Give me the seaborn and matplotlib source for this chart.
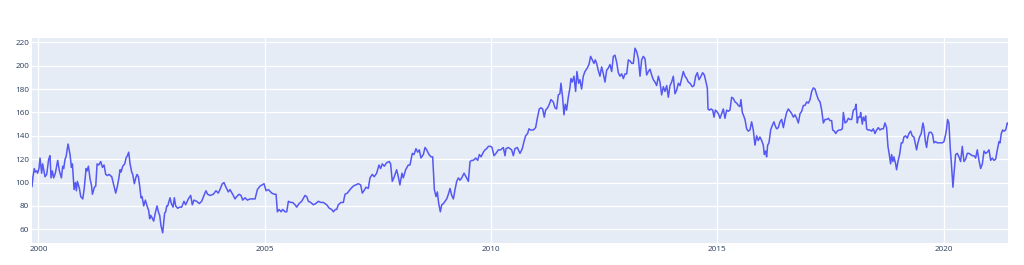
import numpy as np
import pandas as pd
import matplotlib
matplotlib.use("Agg")
import matplotlib.pyplot as plt
import matplotlib.dates as mdates
import seaborn as sns

# decimal-year time stamps and values
years = [
 1999.859,1999.881,1999.910,1999.933,1999.962,1999.984,2000.013,2000.036,2000.072,2000.094,
 2000.146,2000.183,2000.227,2000.256,2000.279,2000.308,2000.337,2000.374,2000.426,2000.463,
 2000.507,2000.536,2000.558,2000.588,2000.610,2000.654,2000.698,2000.728,2000.750,2000.787,
 2000.816,2000.838,2000.860,2000.904,2000.934,2000.978,2001.008,2001.052,2001.074,2001.103,
 2001.140,2001.170,2001.192,2001.236,2001.265,2001.295,2001.332,2001.376,2001.413,2001.449,
 2001.486,2001.523,2001.560,2001.619,2001.670,2001.707,2001.744,2001.773,2001.803,2001.825,
 2001.862,2001.906,2001.935,2001.965,2001.994,2002.024,2002.060,2002.083,2002.119,2002.149,
 2002.178,2002.208,2002.237,2002.267,2002.289,2002.326,2002.362,2002.399,2002.436,2002.458,
 2002.480,2002.510,2002.546,2002.576,2002.620,2002.657,2002.679,2002.708,2002.745,2002.767,
 2002.789,2002.812,2002.834,2002.856,2002.885,2002.907,2002.937,2002.974,2003.003,2003.032,
 2003.077,2003.121,
 2003.165,2003.216,2003.253,2003.312,2003.364,2003.400,2003.437,2003.496,2003.555,2003.607,
 2003.658,2003.702,2003.739,2003.791,2003.864,2003.923,2003.975,2004.011,2004.063,2004.100,
 2004.144,2004.196,2004.232,2004.291,2004.343,2004.380,2004.431,2004.475,2004.512,2004.564,
 2004.615,2004.674,2004.733,2004.785,2004.836,2004.895,2004.939,2004.983,2005.028,2005.079,
 2005.153,2005.212,2005.249,2005.278,2005.315,2005.359,2005.396,2005.447,2005.484,2005.521,
 2005.573,2005.617,2005.668,2005.705,2005.757,2005.815,2005.889,2005.926,2005.963,2006.014,
 2006.073,2006.125,2006.184,2006.235,2006.294,2006.368,2006.427,2006.478,2006.515,2006.559,
 2006.589,2006.625,2006.684,2006.736,2006.773,2006.824,2006.883,
 2006.905,2006.957,2007.008,2007.067,2007.119,2007.155,2007.192,2007.236,2007.288,2007.325,
 2007.376,2007.420,2007.472,2007.524,2007.560,2007.597,2007.641,2007.693,2007.752,2007.781,
 2007.818,2007.862,2007.914,2007.951,2007.987,2008.032,2008.061,2008.113,2008.171,2008.208,
 2008.260,2008.297,2008.341,2008.378,2008.414,2008.451,2008.503,2008.540,2008.576,2008.628,
 2008.672,2008.709,2008.746,2008.783,2008.812,2008.842,2008.878,2008.908,2008.945,2008.981,
 2009.018,2009.055,2009.092,2009.129,2009.166,2009.202,2009.239,2009.276,2009.313,2009.350,
 2009.401,2009.445,2009.497,2009.534,2009.570,2009.607,2009.659,2009.703,2009.740,2009.777,
 2009.828,2009.865,2009.902,2009.939,2009.990,2010.020,2010.064,2010.108,2010.160,2010.211,
 2010.270,2010.307,2010.329,2010.380,
 2010.454,2010.491,2010.527,2010.579,2010.638,2010.689,2010.726,2010.763,2010.807,2010.837,
 2010.874,2010.932,2010.984,2011.021,2011.065,2011.102,2011.139,2011.175,2011.205,2011.249,
 2011.286,2011.323,2011.374,2011.411,2011.448,2011.485,2011.521,2011.544,2011.580,2011.610,
 2011.639,2011.669,2011.706,2011.742,2011.764,2011.794,2011.831,2011.868,2011.897,2011.934,
 2011.963,2012.000,2012.037,2012.074,2012.125,2012.162,2012.199,2012.236,2012.273,2012.302,
 2012.331,2012.368,2012.405,2012.442,2012.479,2012.516,2012.552,2012.589,2012.626,2012.663,
 2012.700,2012.736,2012.773,2012.810,2012.847,2012.884,2012.921,2012.957,2012.994,2013.031,
 2013.068,2013.105,2013.141,2013.178,2013.215,2013.252,2013.289,2013.325,2013.362,2013.399,
 2013.436,2013.473,2013.510,2013.546,2013.583,2013.620,2013.657,2013.694,2013.730,2013.767,
 2013.804,2013.841,2013.878,2013.915,2013.951,2013.988,2014.025,2014.062,2014.099,2014.135,
 2014.172,2014.209,2014.246,2014.283,2014.320,2014.356,2014.393,
 2014.445,2014.482,2014.519,2014.556,2014.593,2014.637,2014.674,2014.711,2014.747,2014.777,
 2014.792,2014.821,2014.858,2014.895,2014.924,2014.954,2014.983,2015.020,2015.057,2015.093,
 2015.130,2015.167,2015.204,2015.241,2015.277,2015.314,2015.351,2015.388,2015.425,2015.462,
 2015.498,2015.520,2015.550,2015.572,2015.609,2015.646,2015.682,2015.719,2015.756,2015.793,
 2015.830,2015.867,2015.903,2015.940,2015.977,2016.014,2016.036,2016.065,2016.087,2016.110,
 2016.139,2016.176,2016.213,2016.249,2016.272,2016.308,2016.345,2016.382,2016.419,2016.456,
 2016.492,2016.529,2016.566,2016.603,2016.640,2016.677,2016.713,2016.750,2016.787,2016.824,
 2016.861,2016.897,2016.934,2016.971,2017.008,2017.045,2017.081,2017.118,2017.155,2017.192,
 2017.229,2017.266,2017.302,2017.339,2017.376,2017.413,2017.450,2017.486,2017.523,2017.545,
 2017.582,2017.612,2017.648,2017.685,2017.722,2017.759,2017.781,2017.818,2017.855,2017.891,
 2017.928,2017.965,2018.002,2018.039,2018.061,2018.090,2018.112,2018.149,
 2018.163,2018.185,2018.200,2018.222,2018.252,2018.274,2018.296,2018.325,2018.369,2018.406,
 2018.443,2018.480,2018.517,2018.553,2018.590,2018.627,2018.664,2018.701,2018.737,2018.767,
 2018.796,2018.826,2018.848,2018.877,2018.899,2018.936,2018.958,2018.988,2019.025,2019.061,
 2019.091,2019.120,2019.157,2019.194,2019.231,2019.268,2019.304,2019.341,2019.378,2019.400,
 2019.430,2019.466,2019.503,2019.540,2019.562,2019.592,2019.621,2019.651,2019.680,2019.724,
 2019.754,2019.783,2019.820,2019.857,2019.894,2019.930,2019.967,2020.004,2020.041,2020.063,
 2020.085,2020.114,2020.144,2020.166,2020.188,2020.203,2020.225,2020.262,2020.299,2020.335,
 2020.372,2020.409,2020.446,2020.483,2020.519,2020.556,2020.593,2020.630,2020.667,2020.703,
 2020.740,2020.777,2020.814,2020.851,2020.888,2020.924,2020.961,2020.998,2021.035,2021.072,
 2021.108,2021.145,2021.182,2021.219,2021.241,2021.270,2021.300,2021.329,2021.366,2021.403,
 2021.418,
]

values = [
 96.5,105,112,109,110,108,112,121,108,116,
 105,107,120,123,104,110,104,108,119,110,
 104,114,112,120,122,133,124,113,116,94,
 100,93,101,95,88,86,94,112,110,114,
 103,98,90,96,97,116,115,118,113,115,
 107,106,107,105,97,91,97,103,111,109,
 114,116,121,123,126,116,109,107,99,104,
 107,105,97,87,88,80,85,80,76,69,
 72,70,67,73,80,74,72,63,57,66,
 74,75,80,80,84,87,82,79,87,80,
 78,79,
 79,84,81,86,89,81,85,84,82,84,
 89,93,90,89,90,93,91,94,99,100,
 96,92,94,90,86,88,90,89,85,87,
 85,86,86,86,94,97,98,99,93,94,
 91,90,90,75,77,75,77,75,75,84,
 83,83,81,79,82,84,89,88,84,83,
 81,82,84,83,83,81,78,77,75,77,
 77,81,83,83,90,91,94,
 95,97,98,99,98,91,93,96,95,104,
 107,105,108,115,112,116,114,117,118,116,
 101,105,111,105,98,108,104,111,115,115,
 125,124,129,126,128,121,124,130,128,124,
 122,122,94,88,92,82,75,81,82,84,
 86,90,95,89,86,94,101,104,102,104,
 108,105,101,118,119,119,121,119,124,122,
 126,128,129,131,131,130,123,125,128,128,
 130,123,129,130,
 128,123,129,130,125,129,135,140,142,146,
 145,145,147,155,163,164,163,156,162,164,
 167,171,169,164,163,175,176,185,173,158,
 167,162,173,181,189,186,191,178,195,185,
 188,180,191,195,198,201,208,205,202,205,
 202,196,191,199,193,186,196,198,201,195,
 208,209,203,194,191,193,189,193,193,205,
 204,202,202,215,212,206,191,205,208,206,
 192,195,197,192,188,186,183,191,186,175,
 182,178,183,173,183,186,191,176,179,185,
 183,189,195,191,189,186,185,
 182,183,191,194,188,191,194,192,186,181,
 163,162,163,162,156,162,161,159,155,159,
 163,155,162,161,162,173,172,169,168,166,
 165,171,160,158,154,146,144,145,152,145,
 132,140,136,139,136,132,124,127,122,132,
 134,145,149,152,149,146,147,152,154,147,
 154,160,163,161,159,156,158,155,151,159,
 161,166,166,169,168,171,178,181,180,175,
 171,169,162,151,154,154,155,153,153,145,
 144,142,144,145,145,146,160,151,152,155,
 154,154,162,163,167,151,156,156,
 160,154,150,156,153,157,146,145,145,144,
 146,142,145,147,145,146,146,151,147,131,
 124,116,124,118,122,116,111,118,124,134,
 134,139,140,138,142,144,140,139,132,128,
 134,139,142,151,147,136,130,139,143,143,
 141,134,135,134,134,134,134,135,141,146,
 154,151,129,118,105,96,107,124,125,122,
 118,131,118,120,125,125,124,123,123,121,
 128,119,112,116,127,125,126,128,119,121,
 119,120,128,135,134,142,145,144,145,151,
 150,
]

y_ticks = [60, 80, 100, 120, 140, 160, 180, 200, 220]
x_tick_years = [2000, 2005, 2010, 2015, 2020]


def to_datetime(y):
    yi = int(np.floor(y))
    start = pd.Timestamp(year=yi, month=1, day=1)
    end = pd.Timestamp(year=yi + 1, month=1, day=1)
    return start + (end - start) * (y - yi)


df = pd.DataFrame({"date": [to_datetime(y) for y in years], "value": values})

sns.set_theme(style="darkgrid")
plt.rcParams["font.family"] = ["Open Sans", "DejaVu Sans"]

fig = plt.figure(figsize=(10.24, 2.65), dpi=100)
ax = fig.add_axes([32 / 1024, 1 - 243 / 265, (1008 - 32) / 1024, (243 - 38) / 265])
ax.set_facecolor("#E5ECF6")
fig.patch.set_facecolor("white")

sns.lineplot(data=df, x="date", y="value", ax=ax, color="#5558f2", linewidth=1.1)

ax.set_xlim(df["date"].iloc[0], df["date"].iloc[-1])
ax.set_ylim(48.3, 223.7)
ax.set_yticks(y_ticks)
ax.set_xticks([pd.Timestamp(year=y, month=1, day=1) for y in x_tick_years])
ax.xaxis.set_major_formatter(mdates.DateFormatter("%Y"))
ax.grid(True, color="white", linewidth=0.9)
ax.set_axisbelow(True)
for s in ax.spines.values():
    s.set_visible(False)
ax.tick_params(axis="both", length=0, labelsize=5.9, colors="#2a3f5f", pad=2)
ax.set_xlabel("")
ax.set_ylabel("")

fig.savefig("out.png", dpi=100)
